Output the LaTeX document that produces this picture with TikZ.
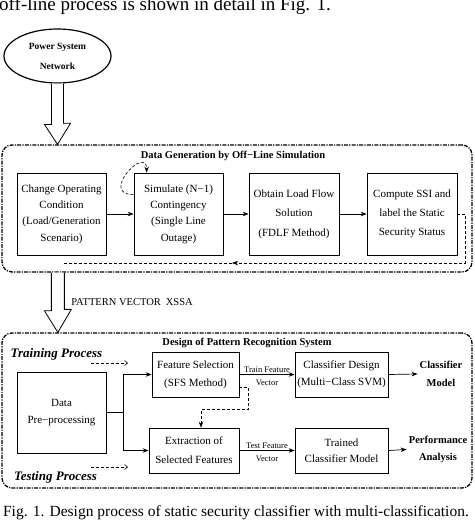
\documentclass[tikz,border=0pt]{standalone}
\usepackage{fontspec}
\setmainfont{Liberation Serif}
\usepackage{tikz}
\usetikzlibrary{arrows.meta,calc,shapes.geometric}
\tikzset{
	blk/.style={draw, line width=0.7pt, align=center, inner sep=0pt, minimum width=89, minimum height=82, font=\fontsize{11}{16.3}\selectfont},
	sbox/.style={blk, minimum height=45, font=\fontsize{11}{18}\selectfont},
	frame/.style={draw, line width=1.3pt, rounded corners=10pt, inner sep=0pt, dash pattern=on 4pt off 1.2pt on 1.2pt off 1.2pt},
	ttl/.style={font=\bfseries\fontsize{10.5}{10.5}\selectfont},
	proc/.style={font=\bfseries\itshape\fontsize{13}{13}\selectfont},
	res/.style={align=center, inner sep=2pt, font=\bfseries\fontsize{10.5}{18}\selectfont},
	lbl/.style={font=\fontsize{8.5}{8.5}\selectfont, inner sep=2pt},
	fb/.style={line width=0.6pt, dash pattern=on 3pt off 2pt},
	hollow/.style={draw, line width=0.8pt, fill=white, line join=miter}
}
\begin{document}
\begin{tikzpicture}[x=1pt, y=-1pt, >={Stealth[length=6pt,width=4.5pt]}]
		\useasboundingbox (0,0) rectangle (474,521);
		\node[anchor=base west, inner sep=0pt, font=\fontsize{19}{19}\selectfont] (top) at (-1,10.5) {off-line process is shown in detail in Fig. 1.};
		\node[draw, ellipse, line width=1.2pt, minimum width=107, minimum height=54, inner sep=0pt, align=center, font=\bfseries\fontsize{9.5}{20}\selectfont] (net) at (57.5,56) {Power System\\Network};
%
		\node[frame, minimum width=470, minimum height=127] (gen) at (237,208.5) {};
		\node[ttl] (genT) at (233,156) {Data Generation by Off−Line Simulation};
		\node[blk] (chg) at (61.5,214) {Change Operating\\Condition\\(Load/Generation\\Scenario)};
		\node[blk] (sim) at (178.5,214) {Simulate (N−1)\\Contingency\\(Single Line\\Outage)};
		\node[blk, minimum width=90, font=\fontsize{11}{19.5}\selectfont] (lf) at (294,214) {Obtain Load Flow\\Solution\\(FDLF Method)};
		\node[blk, minimum width=90, font=\fontsize{11}{19}\selectfont] (ssi) at (412,214) {Compute SSI and\\label the Static\\Security Status};
		\coordinate (fbmid) at (232,263);
		\coordinate (fbend) at (63,263);
%
		\draw[hollow] ($(net.south)+(-6,0)$) -- ++(0,41) -- ++(-7,0) -- (net.south |- gen.north) -- ++(13,-21) -- ++(-7,0) -- ($(net.south)+(6,0)$);
		\draw[->, line width=0.7pt] (chg) -- (sim);
		\draw[->, line width=0.7pt] (sim) -- (lf);
		\draw[->, line width=0.7pt] (lf) -- (ssi);
		\draw[fb, ->] ($(sim.north west)+(0,22)$) .. controls +(-35,0) and +(0,-28) .. ($(sim.north west)+(13,0)$);
		\draw[fb, ->] (ssi.east) -- ++(8,0) |- (fbmid);
		\draw[fb] (fbmid) -- (fbend);
%
		\node[frame, minimum width=470, minimum height=155] (pat) at (237,410.5) {};
		\coordinate (pvtop) at ($(gen.south west)+(56.5,0)$);
		\draw[hollow] ($(pvtop)+(-6.5,0)$) -- ++(0,38) -- ++(-7,0) -- (pvtop |- pat.north) -- ++(13.5,-23) -- ++(-7,0) -- ($(pvtop)+(6.5,0)$);
		\node[font=\fontsize{10.5}{10.5}\selectfont] (pvlab) at (132,302) {PATTERN VECTOR\hspace{5pt}XSSA};
%
		\node[ttl] (patT) at (247,343) {Design of Pattern Recognition System};
		\node[proc] (trn) at (56.5,354) {Training Process};
		\node[proc] (tst) at (55.5,477) {Testing Process};
		\node[blk, minimum height=81, font=\fontsize{11}{17}\selectfont] (pre) at (61.5,412.5) {Data\\Pre−processing};
		\node[sbox, minimum width=87] (fs) at (195.5,374.5) {Feature Selection\\(SFS Method)};
		\node[sbox, minimum width=90, font=\fontsize{11}{19}\selectfont] (ext) at (194,450.5) {Extraction of\\Selected Features};
		\node[sbox, minimum width=93, font=\fontsize{11}{17}\selectfont] (cd) at (341.5,374.5) {Classifier Design\\(Multi−Class SVM)};
		\node[sbox, minimum width=93, font=\fontsize{11}{16}\selectfont] (tcm) at (341.5,450.5) {Trained\\Classifier Model};
		\node[res] (cm) at (441,374) {Classifier\\Model};
		\node[res, font=\bfseries\fontsize{10.5}{17}\selectfont] (pa) at (438,449.5) {Performance\\Analysis};
		\coordinate (trnin) at (91,363);
		\coordinate (tstin) at (91,467);
%
		\draw[fb, -{Straight Barb[length=3pt,width=5pt]}] (trnin) -- ++(37,0);
		\draw[fb, -{Straight Barb[length=3pt,width=5pt]}] (tstin) -- ++(37,0);
		\draw[line width=0.7pt] (pre.east) -- ++(17,0) coordinate (br);
		\draw[->, line width=0.7pt] (br) |- (fs.west);
		\draw[->, line width=0.7pt] (br) |- (ext.west);
		\draw[->, line width=0.7pt] (fs.east) -- node[lbl, above] {Train Feature} node[lbl, below, yshift=-3pt] {Vector} (cd.west);
		\draw[->, line width=0.7pt] (ext.east) -- node[lbl, above] {Test Feature} node[lbl, below, yshift=-3pt] {Vector} (tcm.west);
		\draw[->, line width=0.7pt] (cd.east) -- (cm.west);
		\draw[->, line width=0.7pt] (tcm.east) -- (pa.west);
		\draw[fb, ->] ($(fs.south east)+(0,-10)$) -- ++(9,0) |- ($(ext.north)+(7,-18)$) -- ($(ext.north)+(7,0)$);
%
		\node[font=\fontsize{15.5}{15.5}\selectfont] (cap) at (236,513) {Fig. 1. Design process of static security classifier with multi-classification.};
	\end{tikzpicture}
\end{document}
